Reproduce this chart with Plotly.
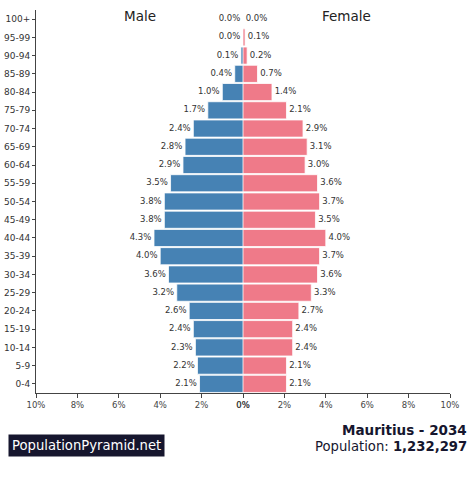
import plotly.graph_objects as go
from plotly.subplots import make_subplots

# Mauritius 2034, share of total population (%)
ages = ['0-4', '5-9', '10-14', '15-19', '20-24', '25-29', '30-34', '35-39',
        '40-44', '45-49', '50-54', '55-59', '60-64', '65-69', '70-74',
        '75-79', '80-84', '85-89', '90-94', '95-99', '100+']
male = [2.1, 2.2, 2.3, 2.4, 2.6, 3.2, 3.6, 4.0, 4.3, 3.8, 3.8, 3.5,
        2.9, 2.8, 2.4, 1.7, 1.0, 0.4, 0.1, 0.0, 0.0]
female = [2.1, 2.1, 2.4, 2.4, 2.7, 3.3, 3.6, 3.7, 4.0, 3.5, 3.7, 3.6,
          3.0, 3.1, 2.9, 2.1, 1.4, 0.7, 0.2, 0.1, 0.0]
ticks = [0, 2, 4, 6, 8, 10]

MALE_C = '#4682b4'
FEMALE_C = '#ef7a89'
FONT = 'DejaVu Sans'

fig = make_subplots(rows=1, cols=2, shared_yaxes=True, horizontal_spacing=0)

fig.add_trace(go.Bar(y=ages, x=male, orientation='h', marker_color=MALE_C,
                     marker_line=dict(color='white', width=0.8), showlegend=False,
                     hoverinfo='skip'), row=1, col=1)
fig.add_trace(go.Bar(y=ages, x=female, orientation='h', marker_color=FEMALE_C,
                     marker_line=dict(color='white', width=0.8), showlegend=False,
                     hoverinfo='skip'), row=1, col=2)

# value labels next to the bars
fig.add_trace(go.Scatter(y=ages, x=male, mode='text',
                         text=[f'{v:.1f}% ' for v in male], textposition='middle left',
                         textfont=dict(size=8.5, color='#333333', family=FONT),
                         showlegend=False, hoverinfo='skip', cliponaxis=False), row=1, col=1)
fig.add_trace(go.Scatter(y=ages, x=female, mode='text',
                         text=[f' {v:.1f}%' for v in female], textposition='middle right',
                         textfont=dict(size=8.5, color='#333333', family=FONT),
                         showlegend=False, hoverinfo='skip', cliponaxis=False), row=1, col=2)

axis_common = dict(tickvals=ticks, ticktext=[f'{t}%' for t in ticks], automargin=False,
                   showgrid=False, zeroline=False, showline=True, linecolor='#444444',
                   linewidth=1, ticks='outside', ticklen=4, tickcolor='#444444',
                   tickfont=dict(size=8.5, color='#444444', family=FONT))
fig.update_xaxes(range=[10, 0], **axis_common, row=1, col=1)
fig.update_xaxes(range=[0, 10], **axis_common, row=1, col=2)
fig.update_yaxes(range=[-0.5, 20.5], automargin=False, showgrid=False, showline=True,
                 linecolor='#444444', linewidth=1, ticks='outside', ticklen=3,
                 tickcolor='#444444',
                 tickfont=dict(size=9, color='#333333', family=FONT), row=1, col=1)

fig.update_layout(
    width=474, height=478,
    margin=dict(l=36, r=24, t=10, b=85),
    bargap=0.06,
    plot_bgcolor='white', paper_bgcolor='white',
    font=dict(family=FONT),
    annotations=[
        dict(text='Male', x=0.25, y=1.0, xref='paper', yref='paper', xanchor='center',
             yanchor='top', showarrow=False, yshift=4,
             font=dict(size=13.5, color='#222222', family=FONT)),
        dict(text='Female', x=0.75, y=1.0, xref='paper', yref='paper', xanchor='center',
             yanchor='top', showarrow=False, yshift=4,
             font=dict(size=13.5, color='#222222', family=FONT)),
        dict(text='PopulationPyramid.net', x=-0.068, y=-0.137, xref='paper', yref='paper',
             xanchor='left', yanchor='middle', showarrow=False, bgcolor='#16162e',
             borderpad=3, font=dict(size=13.2, color='white', family=FONT)),
        dict(text='<b>Mauritius - 2034</b>', x=1.046, y=-0.097, xref='paper', yref='paper',
             xanchor='right', yanchor='middle', showarrow=False,
             font=dict(size=13.5, color='#16162e', family=FONT)),
        dict(text='Population: <b>1,232,297</b>', x=1.046, y=-0.139, xref='paper',
             yref='paper', xanchor='right', yanchor='middle', showarrow=False,
             font=dict(size=13.2, color='#16162e', family=FONT)),
    ],
)

fig.write_html('out.html', config={'displayModeBar': False},
               post_script="document.body.style.margin='0';")
